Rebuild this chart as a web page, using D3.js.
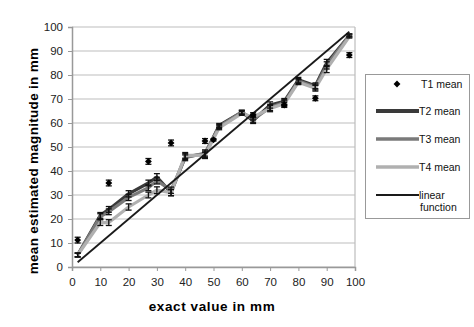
<!DOCTYPE html>
<html><head><meta charset="utf-8">
<script src="https://cdn.jsdelivr.net/npm/d3@7"></script>
<style>body{margin:0;background:#fff}svg{display:block}text{font-family:"Liberation Sans",Arial,sans-serif}</style>
</head><body>
<svg id="c" width="474" height="327"></svg>
<script>
const xValues = [2, 10, 13, 20, 27, 30, 35, 40, 47, 52, 60, 64, 70, 75, 80, 86, 90, 98];
const t2Mean = [5, 21.5, 24, 30.5, 35, 37.5, 31, 46, 47, 59, 64.5, 61, 67.5, 69, 78, 75.5, 85, 96.5];
const t3Mean = [5, 21, 23, 29, 33, 36, 32, 45.5, 47.5, 58.5, 64.5, 61.5, 66.5, 68.5, 77.5, 75, 84, 96.5];
const t4Mean = [5, 18.5, 18.5, 25, 30, 32, 31, 46.5, 46.5, 58, 64, 62.5, 66, 68, 77, 74.5, 82.5, 96];
const tErr = [0.8, 1.2, 1.2, 1.3, 1.2, 1.4, 1.3, 1.2, 1.3, 0.8, 0.8, 1.2, 1.3, 1.2, 1.0, 1.2, 1.5, 0.6];
const t1X = [2, 13, 27, 35, 47, 50, 64, 75, 86, 98];
const t1Mean = [11.2, 35, 44, 51.7, 52.5, 53, 63.3, 67.5, 70.3, 88.3];
const t1Err = [1.2, 1.2, 1.2, 1.2, 1.0, 0.5, 1.0, 1.0, 1.0, 1.0];
const linearX = [2, 98];
const xTicks = [0, 10, 20, 30, 40, 50, 60, 70, 80, 90, 100];
const yTicks = [0, 10, 20, 30, 40, 50, 60, 70, 80, 90, 100];
const legendLabels = ["T1 mean", "T2 mean", "T3 mean", "T4 mean", "linear function"];

const svg = d3.select("#c");
const L = 72, R = 355, T = 27, B = 267;
const x = d3.scaleLinear().domain([0, 100]).range([L, R]);
const y = d3.scaleLinear().domain([0, 100]).range([B, T]);

svg.append("g").selectAll("line").data(yTicks).join("line")
  .attr("x1", L).attr("x2", R).attr("y1", d => y(d)).attr("y2", d => y(d))
  .attr("stroke", "#bdbdbd").attr("stroke-width", 1.2);
svg.append("line").attr("x1", R).attr("x2", R).attr("y1", T).attr("y2", B)
  .attr("stroke", "#bdbdbd").attr("stroke-width", 1.2);

const xa = svg.append("g").attr("transform", `translate(0,${B})`)
  .call(d3.axisBottom(x).tickValues(xTicks).tickSize(4).tickPadding(7));
const ya = svg.append("g").attr("transform", `translate(${L},0)`)
  .call(d3.axisLeft(y).tickValues(yTicks).tickSize(4).tickPadding(5));
[xa, ya].forEach(a => {
  a.select(".domain").attr("stroke", "#999").attr("stroke-width", 1.5);
  a.selectAll(".tick line").attr("stroke", "#999");
  a.selectAll("text").attr("font-size", 11.5).attr("fill", "#222")
    .attr("font-family", "'Liberation Sans', Arial, sans-serif");
});

const series = [
  {m: t2Mean, c: "#3a3a3a"},
  {m: t3Mean, c: "#7a7a7a"},
  {m: t4Mean, c: "#b0b0b0"}
];
const line = d3.line().x(d => x(d[0])).y(d => y(d[1]));
series.forEach(s => {
  svg.append("path").datum(xValues.map((v, i) => [v, s.m[i]]))
    .attr("d", line).attr("fill", "none").attr("stroke", s.c)
    .attr("stroke-width", 3.2).attr("stroke-linejoin", "round");
});

svg.append("path").datum(linearX.map(v => [v, v])).attr("d", line)
  .attr("fill", "none").attr("stroke", "#1a1a1a").attr("stroke-width", 1.8);

function errBars(xs, ms, es) {
  const g = svg.append("g").attr("stroke", "#111").attr("stroke-width", 1.3);
  xs.forEach((v, i) => {
    const cx = x(v), y1 = y(ms[i] - es[i]), y2 = y(ms[i] + es[i]);
    g.append("line").attr("x1", cx).attr("x2", cx).attr("y1", y1).attr("y2", y2);
    g.append("line").attr("x1", cx - 3).attr("x2", cx + 3).attr("y1", y1).attr("y2", y1);
    g.append("line").attr("x1", cx - 3).attr("x2", cx + 3).attr("y1", y2).attr("y2", y2);
  });
}
[t2Mean, t3Mean, t4Mean].forEach(m => errBars(xValues, m, tErr));
errBars(t1X, t1Mean, t1Err);

const diamond = d3.symbol().type(d3.symbolDiamond2).size(30);
svg.append("g").selectAll("path").data(t1X.map((v, i) => [v, t1Mean[i]])).join("path")
  .attr("d", diamond).attr("transform", d => `translate(${x(d[0])},${y(d[1])})`)
  .attr("fill", "#000");

svg.append("text").attr("x", 212).attr("y", 311).attr("text-anchor", "middle")
  .attr("font-size", 13.5).attr("font-weight", "bold").attr("letter-spacing", 0.6)
  .text("exact value in mm");
svg.append("text").attr("transform", "translate(38,161) rotate(-90)").attr("text-anchor", "middle")
  .attr("font-size", 13.5).attr("font-weight", "bold").attr("letter-spacing", 0.3)
  .text("mean estimated magnitude in mm");

const lg = svg.append("g");
lg.append("rect").attr("x", 365.5).attr("y", 74.5).attr("width", 104).attr("height", 144)
  .attr("fill", "#fff").attr("stroke", "#999").attr("stroke-width", 1);
const ly = [84, 111, 139, 167, 195];
const lc = [null, "#3a3a3a", "#7a7a7a", "#b0b0b0", "#1a1a1a"];
const lw = [0, 4, 3.5, 3.5, 2];
legendLabels.forEach((lab, i) => {
  if (i === 0) {
    lg.append("path").attr("d", diamond).attr("transform", `translate(397,${ly[0]})`).attr("fill", "#000");
  } else {
    lg.append("line").attr("x1", 376).attr("x2", 419).attr("y1", ly[i]).attr("y2", ly[i])
      .attr("stroke", lc[i]).attr("stroke-width", lw[i]);
  }
  const t = lg.append("text").attr("x", i === 0 ? 421 : 419).attr("y", ly[i] + 4)
    .attr("font-size", 10.5).attr("fill", "#111");
  if (i === 4) {
    const parts = lab.split(" ");
    t.text(parts[0]);
    lg.append("text").attr("x", 420).attr("y", ly[i] + 16).attr("font-size", 10.5)
      .attr("fill", "#111").text(parts[1]);
  } else t.text(lab);
});
</script>
</body></html>
